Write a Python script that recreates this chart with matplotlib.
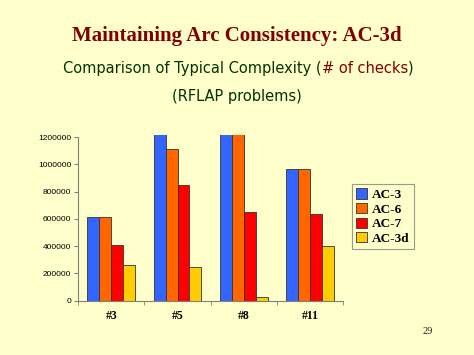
import numpy as np
import matplotlib
matplotlib.use("Agg")
import matplotlib.pyplot as plt
from matplotlib.ticker import FixedLocator

# data
problems = ["#3", "#5", "#8", "#11"]
series_names = ["AC-3", "AC-6", "AC-7", "AC-3d"]
ac3 = [615000, 1250000, 1250000, 968000]
ac6 = [615000, 1110000, 1250000, 968000]
ac7 = [410000, 845000, 653000, 634000]
ac3d = [263000, 249000, 25000, 402000]
y_ticks = [0, 200000, 400000, 600000, 800000, 1000000, 1200000]

colors = ["#3366FF", "#FF6600", "#FF0000", "#FFCC00"]
bg = "#FFFFCC"

fig = plt.figure(figsize=(4.74, 3.55), dpi=100, facecolor=bg)

fig.text(0.5, 0.898, "Maintaining Arc Consistency: AC-3d", ha="center", va="center",
         family="Liberation Serif", weight="bold", fontsize=15, color="#800000")

# subtitle with the red "#" part
sub_y = 0.808
t1 = fig.text(0.133, sub_y, "Comparison of Typical Complexity (", ha="left", va="center",
              family="DejaVu Sans", fontsize=10.5, color="#003300")
fig.canvas.draw()
r = fig.canvas.get_renderer()
bb = t1.get_window_extent(r)
t2 = fig.text(bb.x1 / fig.bbox.width, sub_y, "# of checks", ha="left", va="center",
              family="DejaVu Sans", fontsize=10.5, color="#800000")
bb2 = t2.get_window_extent(r)
fig.text(bb2.x1 / fig.bbox.width, sub_y, ")", ha="left", va="center",
         family="DejaVu Sans", fontsize=10.5, color="#003300")
fig.text(0.5, 0.727, "(RFLAP problems)", ha="center", va="center",
         family="DejaVu Sans", fontsize=10.5, color="#003300")

ax = fig.add_axes([0.165, 0.153, 0.5586, 0.4676])
ax.set_facecolor(bg)

x = np.arange(len(problems))
w = 0.18
for i, (vals, name) in enumerate(zip([ac3, ac6, ac7, ac3d], series_names)):
    ax.bar(x + (i - 1.5) * w, vals, w, color=colors[i], edgecolor="#333333",
           linewidth=0.6, label=name)

ax.set_xlim(-0.5, len(problems) - 0.5)
ax.set_ylim(0, 1217000)
ax.set_yticks(y_ticks)
ax.set_yticklabels([str(v) for v in y_ticks], family="Liberation Sans", fontsize=6)
ax.set_xticks(x)
ax.set_xticklabels(problems, family="Liberation Serif", weight="bold", fontsize=8.5)
ax.xaxis.set_minor_locator(FixedLocator(np.arange(-0.5, len(problems), 1.0)))
ax.tick_params(axis="x", which="major", length=0, pad=7)
ax.tick_params(axis="x", which="minor", length=3, color="#808080")
ax.tick_params(axis="y", length=3, color="#808080", pad=2)

for s in ["top", "right"]:
    ax.spines[s].set_visible(False)
for s in ["left", "bottom"]:
    ax.spines[s].set_color("#808080")
    ax.spines[s].set_linewidth(0.8)
ax.spines["left"].set_bounds(0, 1200000)

leg = ax.legend(loc="upper left", bbox_to_anchor=(1.035, 0.7), frameon=True, fancybox=False,
                prop={"family": "Liberation Serif", "weight": "bold", "size": 9.5},
                handlelength=0.8, handleheight=0.8, handletextpad=0.4,
                labelspacing=0.15, borderpad=0.3, borderaxespad=0)
leg.get_frame().set_edgecolor("#808080")
leg.get_frame().set_facecolor(bg)
leg.get_frame().set_linewidth(0.8)

fig.text(0.903, 0.065, "29", ha="center", va="center", family="Liberation Serif",
         fontsize=7.5, color="#222222")

fig.savefig("out.png", dpi=100, facecolor=bg)
